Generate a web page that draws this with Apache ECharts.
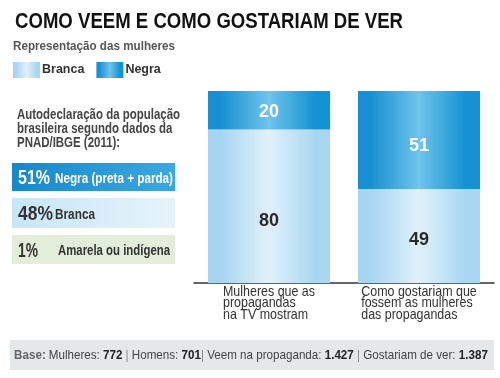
<!DOCTYPE html>
<html><head><meta charset="utf-8">
<script src="https://cdn.jsdelivr.net/npm/echarts@6/dist/echarts.min.js"></script>
<style>html,body{margin:0;padding:0;background:#fff}#c{width:500px;height:378px}</style>
</head><body><div id="c"></div>
<script>
const categories = ['Mulheres que as\npropagandas\nna TV mostram', 'Como gostariam que\nfossem as mulheres\ndas propagandas'];
const branca = [80, 49];
const negra = [20, 51];
const popPct = ['51%', '48%', '1%'];
const popLabel = ['Negra (preta + parda)', 'Branca', 'Amarela ou indígena'];
const baseLabels = ['Mulheres', 'Homens', 'Veem na propaganda', 'Gostariam de ver'];
const baseValues = ['772', '701', '1.427', '1.387'];

const F = '"Liberation Sans", Arial, sans-serif';
const chart = echarts.init(document.getElementById('c'), null, {renderer: 'canvas'});
const mctx = document.createElement('canvas').getContext('2d');
function tw(text, font) { mctx.font = font; return mctx.measureText(text).width; }
function fit(text, font, w) { return w / tw(text, font); }

function hGrad(edge, mid, edge2) {
  return new echarts.graphic.LinearGradient(0, 0, 1, 0, [
    {offset: 0, color: edge}, {offset: 0.1, color: edge}, {offset: 0.5, color: mid}, {offset: 0.88, color: edge2}, {offset: 1, color: edge2}
  ]);
}
const gradB = hGrad('#a6d5f2', '#e1f1fb', '#a8d7f2');
const gradN = hGrad('#1690d2', '#70c3ec', '#1492d3');

const brancaOffsets = [[0, 15], [0, 4]];
const negraOffsets = [[0, 2], [0, 6]];

chart.setOption({
  animation: false,
  legend: {
    left: 13, top: 62, padding: 0, itemWidth: 27, itemHeight: 16, itemGap: 12, selectedMode: false,
    icon: 'rect',
    textStyle: {fontFamily: F, fontWeight: 'bold', fontSize: 12.5, color: '#333', padding: [0, 0, 0, -3]},
    data: ['Branca', 'Negra']
  },
  grid: {left: 194, right: 6, top: 91, bottom: 95},
  xAxis: {
    type: 'category', data: categories,
    axisLine: {lineStyle: {color: '#333', width: 1.5}},
    axisTick: {show: false},
    axisLabel: {show: false}
  },
  yAxis: {type: 'value', min: 0, max: 100, show: false},
  series: [
    {name: 'Branca', type: 'bar', stack: 'a', barWidth: 122,
      data: branca.map((v, i) => ({value: v, label: {offset: brancaOffsets[i]}})),
      itemStyle: {color: gradB},
      label: {show: true, position: 'inside', color: '#2a2a2a', fontFamily: F, fontWeight: 'bold', fontSize: 18}},
    {name: 'Negra', type: 'bar', stack: 'a', barWidth: 122,
      data: negra.map((v, i) => ({value: v, label: {offset: negraOffsets[i]}})),
      itemStyle: {color: gradN},
      label: {show: true, position: 'inside', color: '#fff', fontFamily: F, fontWeight: 'bold', fontSize: 18}}
  ]
});

const graphics = [];
function addText(text, font, x, y, w, fill, extra) {
  const first = text.split('\n')[0];
  const s = fit(first, font, w);
  graphics.push({type: 'text', x: x, y: y, scaleX: s, style: Object.assign({text: text, font: font, fill: fill, verticalAlign: 'middle'}, extra || {})});
}
addText('COMO VEEM E COMO GOSTARIAM DE VER', 'bold 22px ' + F, 15, 21.5, 388, '#111');
addText('Representação das mulheres', 'bold 13px ' + F, 13, 46, 162, '#555');
addText('Autodeclaração da população\nbrasileira segundo dados da\nPNAD/IBGE (2011):', 'bold 15px ' + F, 17, 129, 163, '#444', {lineHeight: 14});

const boxStyles = [
  {y: 163, h: 28, fill: new echarts.graphic.LinearGradient(0,0,1,0,[{offset:0,color:'#1588cc'},{offset:1,color:'#3ca8e0'}]), col: '#fff', px: 18, pw: 32, lx: 55, lw: 118},
  {y: 198, h: 30, fill: new echarts.graphic.LinearGradient(0,0,1,0,[{offset:0,color:'#c8e6f7'},{offset:1,color:'#e6f4fb'}]), col: '#333', px: 18, pw: 35, lx: 55, lw: 40},
  {y: 235, h: 29, fill: '#e2eed9', col: '#333', px: 18, pw: 20, lx: 58, lw: 112}
];
popPct.forEach((p, i) => {
  const b = boxStyles[i];
  graphics.push({type: 'rect', shape: {x: 12, y: b.y, width: 163, height: b.h}, style: {fill: b.fill}});
  addText(p, 'bold 20px ' + F, b.px, b.y + b.h / 2 + 1.5, b.pw, b.col);
  addText(popLabel[i], 'bold 14px ' + F, b.lx, b.y + b.h / 2 + 2, b.lw, b.col);
});

// category labels positioned from the axis scale
const baseY = chart.convertToPixel({yAxisIndex: 0}, 0);
categories.forEach((c, i) => {
  const cx = chart.convertToPixel({xAxisIndex: 0}, i);
  const lines = c.split('\n');
  const font = '15px ' + F;
  const s = 0.83;
  const maxW = Math.max(...lines.map(l => tw(l, font))) * s;
  graphics.push({type: 'text', x: cx - maxW / 2, y: baseY + 3, scaleX: s,
    style: {text: c, font: font, fill: '#333', lineHeight: 11.5, verticalAlign: 'top'}});
});

// footer
const fB = 'bold 13px ' + F, fN = '13px ' + F;
let footerText = '{b|Base:} ';
let plain = [['Base: ', fB]];
baseLabels.forEach((l, i) => {
  footerText += '{n|' + l + ': }{v|' + baseValues[i] + '}';
  plain.push([l + ': ', fN], [baseValues[i], fB]);
  if (i < baseLabels.length - 1) {
    const sep = i === 1 ? '| ' : ' | ';
    footerText += '{s|' + sep + '}';
    plain.push([sep, fN]);
  }
});
const footW = plain.reduce((a, p) => a + tw(p[0], p[1]), 0);
graphics.push({type: 'rect', shape: {x: 10, y: 340, width: 484, height: 30}, style: {fill: '#e6e7e8'}});
graphics.push({type: 'text', x: 251, y: 355, scaleX: 474 / footW, style: {text: footerText, align: 'center', verticalAlign: 'middle',
  rich: {
    b: {font: fB, fill: '#666'},
    n: {font: fN, fill: '#444'},
    v: {font: fB, fill: '#222'},
    s: {font: fN, fill: '#888'}
  }}});

chart.setOption({graphic: graphics});
</script></body></html>
